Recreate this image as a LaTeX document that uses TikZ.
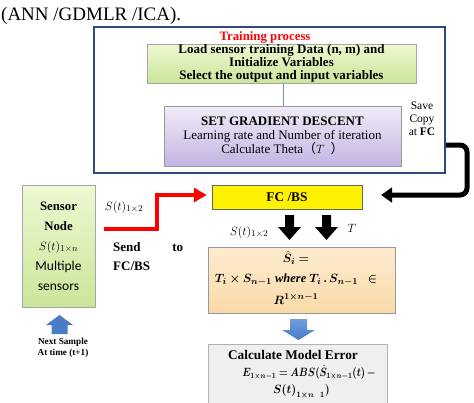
\documentclass[tikz,border=0pt]{standalone}
\usepackage{amsmath,bm,graphicx}
\usepackage{fontspec}
\setmainfont{Liberation Serif}
\newfontfamily\calib{Carlito}
\newfontfamily\cjk{Noto Sans CJK SC}
\usetikzlibrary{arrows.meta}
\definecolor{gT}{HTML}{EEF8D2}
\definecolor{gB}{HTML}{C9E69A}
\definecolor{pT}{HTML}{F1ECF8}
\definecolor{pB}{HTML}{C3B4E2}
\definecolor{oT}{HTML}{FDEBCF}
\definecolor{oB}{HTML}{F9DAA8}
\definecolor{grayF}{HTML}{EFEFEF}
\definecolor{tbc}{HTML}{2E4B7C}
\definecolor{blueA}{HTML}{4A7CC6}
\definecolor{blueB}{HTML}{6E9CDC}
\begin{document}
\begin{tikzpicture}[x=1pt,y=1pt,
  basebox/.style={inner sep=0pt, align=center},
  greenbox/.style={basebox, draw=black!35, top color=gT, bottom color=gB},
  purplebox/.style={basebox, draw=black!40, top color=pT, bottom color=pB},
  orangebox/.style={basebox, draw=black!40, top color=oT, bottom color=oB},
  graybox/.style={basebox, draw=black!30, fill=grayF},
  lbl/.style={inner sep=0pt, align=center},
  one/.style={inner sep=0pt}
]
\clip (0,0) rectangle (474,-402);
\fill[white] (0,0) rectangle (474,-402);

% title
\node[anchor=base west, inner sep=0pt, font=\fontsize{19}{22}\selectfont] (title) at (1,-20) {(ANN /GDMLR /ICA).};

% training process frame
\node[draw=tbc, line width=1.8pt, fill=white, minimum width=351pt, minimum height=146pt, inner sep=0pt] (train) at (269.5,-100) {};
\node[one, text=red, font=\fontsize{12.8}{14}\selectfont\bfseries] (trainlbl) at (265,-37) {Training process};

\node[greenbox, minimum width=269pt, minimum height=39pt, font=\fontsize{13}{13}\selectfont\bfseries] (load) at (281.5,-63.5)
  {Load sensor training Data (n, m) and\\Initialize Variables\\Select the output and input variables};

\node[purplebox, minimum width=237pt, minimum height=60pt, font=\fontsize{13}{14}\selectfont] (gd) at (282.5,-136)
  {\textbf{SET GRADIENT DESCENT}\\Learning rate and Number of iteration\\Calculate Theta{\cjk （}$T$\hspace{6pt}{\cjk ）}};

\draw[blueB!70!gray, line width=0.6pt] (load.south -| 283,0) -- (gd.north -| 283,0);

\node[lbl, font=\fontsize{11.5}{12.8}\selectfont] (save) at (422,-119) {Save\\Copy\\at \textbf{FC}};

% FC/BS
\node[basebox, draw=black!60, fill=yellow, minimum width=150pt, minimum height=24pt, font=\fontsize{13.3}{14}\selectfont\bfseries] (fcbs) at (287,-197) {FC /BS};

% black connector from training to FC/BS
\coordinate (c1) at (467,-145);
\coordinate (c2) at (467,-195);
\draw[line width=5pt, rounded corners=7pt, -{Triangle[length=11pt,width=15pt]}, shorten >=19pt] (train.east |- c1) -- (c1) -- (c2) -- (fcbs.east |- c2);

% sensor node
\node[greenbox, minimum width=73pt, minimum height=122pt, font=\fontsize{12.8}{20}\selectfont] (sensor) at (58.5,-246)
  {\textbf{Sensor}\\\textbf{Node}\\$S(t)_{1\times n}$\\{\calib\fontsize{13.5}{20}\selectfont Multiple}\\{\calib\fontsize{13.5}{20}\selectfont sensors}};

% red arrow
\coordinate (r1) at (157,-229);
\coordinate (r2) at (157,-195);
\draw[red, line width=4.5pt, -{Triangle[length=13pt,width=14pt]}, shorten <=9pt, shorten >=5pt] (sensor.east |- r1) -- (r1) -- (r2) -- (fcbs.west |- r2);
\node[one, font=\fontsize{13}{14}\selectfont] (s12a) at (124,-207) {$S(t)_{1\times 2}$};
\node[lbl, align=left, anchor=north west, font=\fontsize{13}{19}\selectfont\bfseries] (send) at (113,-242) {\makebox[70pt][l]{Send\hfill to}\\FC/BS};

% black down block arrows
\fill (285,-215) -- (294,-215) -- (294,-227) -- (301,-227) -- (289.5,-240) -- (278,-227) -- (285,-227) -- cycle;
\fill (322,-215) -- (331,-215) -- (331,-227) -- (338,-227) -- (326.5,-240) -- (315,-227) -- (322,-227) -- cycle;
\node[one, font=\fontsize{13}{14}\selectfont] (s12b) at (249,-232) {$S(t)_{1\times 2}$};
\node[one, font=\fontsize{13}{14}\selectfont] (tlab) at (352,-228) {$T$};

% estimate box
\node[orangebox, minimum width=187pt, minimum height=66pt] (est) at (301.5,-280.5) {};
\node[one, font=\fontsize{12.5}{14}\selectfont] (est1) at (296,-258) {$\bm{\hat{S}_i =}$};
\node[one, font=\fontsize{12.5}{14}\selectfont] (est2) at (296,-280) {$\bm{T_i \times S_{n-1}}$ \textbf{\textit{where}} $\bm{T_i\,.\,S_{n-1}\ \ \in}$};
\node[one, font=\fontsize{12.5}{14}\selectfont] (est3) at (296,-299) {$\bm{R^{1\times n-1}}$};

% blue down arrow
\shade[top color=blueB, bottom color=blueA] (290,-319) -- (307,-319) -- (307,-330) -- (315,-330) -- (298.5,-340) -- (282,-330) -- (290,-330) -- cycle;

% error box
\node[graybox, minimum width=179pt, minimum height=64pt, anchor=north] (err) at (297.5,-344) {};
\node[one, font=\fontsize{13.3}{14}\selectfont\bfseries] (err1) at (293,-355) {Calculate Model Error};
\node[one, font=\fontsize{12}{14}\selectfont] (err2) at (309,-372.5) {\scalebox{0.82}[1]{$\bm{E_{1\times n-1} = ABS(\hat{S}_{1\times n-1}(t)\,-}$}};
\node[one, font=\fontsize{12}{14}\selectfont] (err3) at (301.5,-391.5) {\scalebox{0.95}[1]{$\bm{S(t)_{1\times n\ \ 1})}$}};

% blue up arrow
\fill[blueA] (59.5,-315) -- (73,-325) -- (67.5,-325) -- (67.5,-334) -- (51.5,-334) -- (51.5,-325) -- (46,-325) -- cycle;
\node[lbl, font=\fontsize{9.2}{10.5}\selectfont\bfseries] (next) at (63,-348) {Next Sample\\At time (t+1)};
\end{tikzpicture}
\end{document}
